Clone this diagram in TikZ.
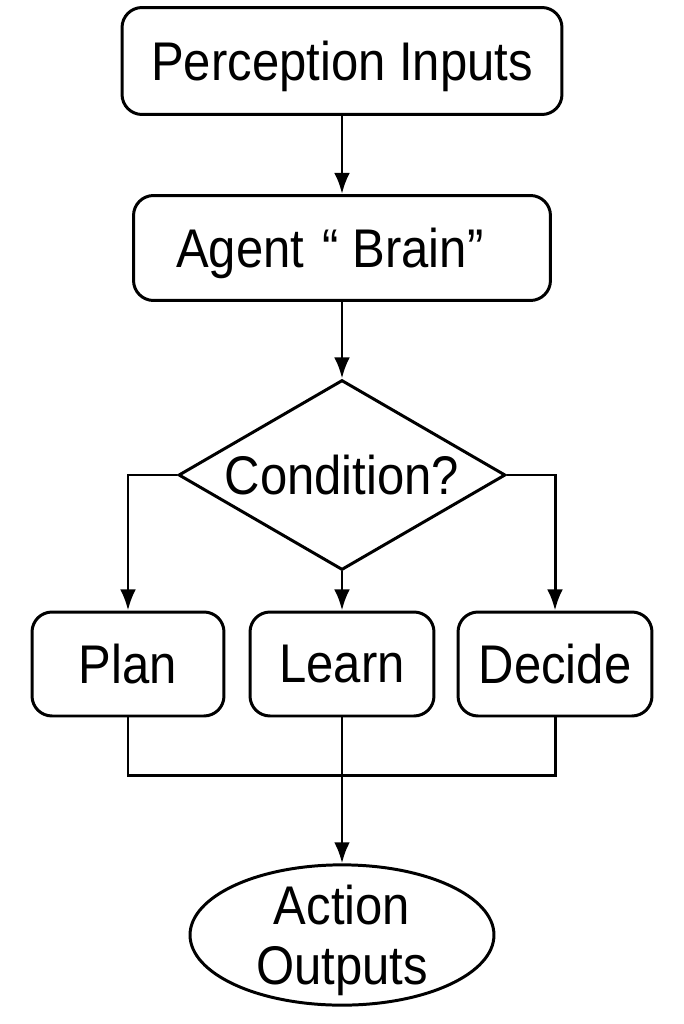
\documentclass[tikz,border=0pt]{standalone}
\usepackage{fontspec}
\setmainfont{Liberation Sans}[FakeStretch=0.9]
\usepackage{tikz}
\usetikzlibrary{arrows.meta,shapes.geometric}

\tikzset{
  box/.style={draw, line width=1.7pt, rounded corners=0.4cm, minimum height=2.08cm, inner sep=0pt, text depth=0pt},
  decision/.style={draw, line width=1.7pt, diamond, aspect=1.72, minimum width=6.54cm, minimum height=3.8cm, inner sep=0pt, text depth=0pt},
  terminal/.style={draw, line width=1.7pt, ellipse, minimum width=6.08cm, minimum height=2.6cm, inner sep=0pt, align=center, text depth=0pt},
  link/.style={draw, line width=1.7pt, -{Latex[length=12pt,width=9pt]}},
  joint/.style={draw, line width=1.7pt}
}

\begin{document}
\begin{tikzpicture}[x=0.02cm, y=-0.02cm,
    every node/.style={font=\fontsize{31}{34}\selectfont}]
        \useasboundingbox (0,0) rectangle (683,1024);

        \node[box, minimum width=8.8cm, minimum height=2.14cm] (inputs) at (342,61) {Perception Inputs};
        \node[box, minimum width=8.34cm, minimum height=2.1cm] (brain) at (342,248) {Agent\hspace{0.33em}“\kern0.26em Brain”\kern0.45em};
        \node[decision] (cond) at (342,475) {Condition?};

        \node[box, minimum width=3.84cm] (plan) at (128,664) {Plan};
        \node[box, minimum width=3.68cm] (learn) at (342,664) {Learn};
        \node[box, minimum width=3.88cm] (decide) at (555,664) {Decide};

        \node[terminal] (outputs) at (342,935) {Action\\Outputs};
        \coordinate (join) at (342,775);

        \path [link] (inputs) -- (brain);
        \path [link] (brain) -- (cond);
        \path [link] (cond.west) -| (plan.north);
        \path [link] (cond.south) -- (learn.north);
        \path [link] (cond.east) -| (decide.north);

        \path [joint] (plan.south) |- (join) -| (decide.south);
        \path [link] (learn.south) -- (outputs.north);
    \end{tikzpicture}
\end{document}
